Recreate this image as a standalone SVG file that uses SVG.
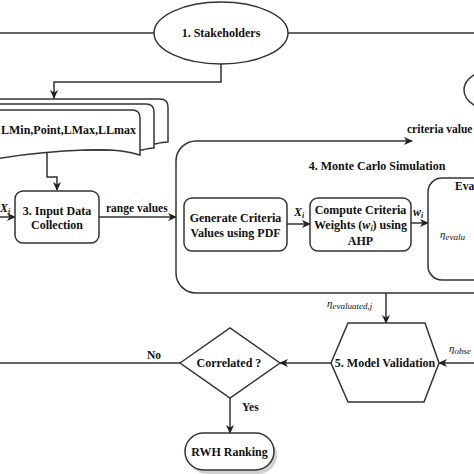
<svg xmlns="http://www.w3.org/2000/svg" width="474" height="474" viewBox="0 0 474 474">
<defs>
<marker id="arr" markerWidth="9" markerHeight="8" refX="8" refY="4" orient="auto" markerUnits="userSpaceOnUse">
<path d="M0,0 L9,4 L0,8 L2.5,4 Z" fill="#222"/>
</marker>
</defs>
<style>
.s{fill:#fff;stroke:#333;stroke-width:1.5}
.c{fill:none;stroke:#333;stroke-width:1.5}
.t{font-family:"Liberation Serif","DejaVu Serif",serif;font-weight:bold;font-size:12px;fill:#111;text-anchor:middle}
.l{font-family:"Liberation Serif","DejaVu Serif",serif;font-weight:bold;font-size:11.5px;fill:#111}
.i{font-family:"Liberation Serif","DejaVu Serif",serif;font-style:italic;font-weight:bold;fill:#111}
.e{font-family:"Liberation Serif","DejaVu Serif",serif;font-style:italic;font-size:11px;fill:#111}
</style>
<rect width="474" height="474" fill="#fff"/>

<g id="connectors">
<path class="c" d="M0,33 H154 M288,33 H474"/>
<path class="c" d="M221,64 V82 H54 V98" marker-end="url(#arr)"/>
<path class="c" d="M47,152 V177 H57 V190" marker-end="url(#arr)"/>
<path class="c" d="M-5,217 H15" marker-end="url(#arr)"/>
<path class="c" d="M99,217 H176" marker-end="url(#arr)"/>
<path class="c" d="M287,224 H310" marker-end="url(#arr)"/>
<path class="c" d="M411,223 H428" marker-end="url(#arr)"/>
<path class="c" d="M386,293 V323" marker-end="url(#arr)"/>
<path class="c" d="M474,363 H439" marker-end="url(#arr)"/>
<path class="c" d="M331,363 H280" marker-end="url(#arr)"/>
<path class="c" d="M180,363 H0"/>
<path class="c" d="M230,398 V433" marker-end="url(#arr)"/>
</g>

<g id="stakeholders">
<ellipse class="s" cx="221" cy="33" rx="67" ry="31"/>
<text class="t" x="221" y="37">1. Stakeholders</text>
</g>

<g id="node-topright">
<ellipse class="s" cx="497" cy="90" rx="33" ry="21"/>
</g>

<g id="documents">
<path class="s" d="M-5,99 H160 Q168,99 168,107 V142 C163,142 159,143 155,144 L-5,144 Z"/>
<path class="s" d="M-5,104 H146 Q154,104 154,112 V148 C150,148 146,149 142,150 L-5,150 Z"/>
<path class="s" d="M-5,110 H132 Q140,110 140,118 V155 C125,150 105,149 85,150 C50,151 25,154 -5,159 Z"/>
<text class="t" x="136" y="134" style="text-anchor:end">LMin,Point,LMax,LLmax</text>
</g>

<g id="input">
<rect class="s" x="15" y="191" width="84" height="52" rx="8"/>
<text class="t" x="57" y="215">3. Input Data</text>
<text class="t" x="57" y="229">Collection</text>
</g>

<g id="montecarlo">
<path class="c" d="M474,293 H196 A20,20 0 0 1 176,273 V161 A20,20 0 0 1 196,141 H412" marker-end="url(#arr)"/>
<text class="t" x="377" y="170">4. Monte Carlo Simulation</text>
</g>

<g id="generate">
<rect class="s" x="184" y="198" width="103" height="53" rx="8"/>
<text class="t" x="235.5" y="222">Generate Criteria</text>
<text class="t" x="235.5" y="237">Values using PDF</text>
</g>

<g id="compute">
<rect class="s" x="310" y="198" width="101" height="53" rx="8"/>
<text class="t" x="360.5" y="214">Compute Criteria</text>
<text class="t" x="360.5" y="229">Weights (<tspan font-style="italic">w</tspan><tspan font-style="italic" font-size="8" dy="2">i</tspan><tspan dy="-2">) using</tspan></text>
<text class="t" x="360.5" y="245">AHP</text>
</g>

<g id="evaluate">
<rect class="s" x="428" y="178" width="100" height="102" rx="14"/>
<text class="l" x="455" y="190">Eva</text>
<text class="e" x="440" y="238">η<tspan font-size="9" dy="2">evalu</tspan></text>
</g>

<g id="validation">
<polygon class="s" points="348,323 425,323 439,363 424,402 348,402 331,363"/>
<text class="t" x="385" y="367">5. Model Validation</text>
</g>

<g id="decision">
<polygon class="s" points="180,363 230,328 280,363 230,398"/>
<text class="t" x="229" y="367">Correlated ?</text>
</g>

<g id="ranking">
<rect x="188" y="437" width="89" height="37" rx="18.5" fill="#999" opacity="0.45"/>
<rect class="s" x="185" y="433" width="89" height="37" rx="18.5"/>
<text class="t" x="229.5" y="456">RWH Ranking</text>
</g>

<g id="labels">
<text class="l" x="106" y="212">range values</text>
<text class="l" x="407" y="133">criteria value</text>
<text class="l" x="147" y="359">No</text>
<text class="l" x="242" y="411">Yes</text>
<text class="i" x="0" y="212" font-size="12">X<tspan font-size="8" dy="2">i</tspan></text>
<text class="i" x="294" y="216" font-size="12">X<tspan font-size="8" dy="2">i</tspan></text>
<text class="i" x="413" y="216" font-size="12">w<tspan font-size="8" dy="2">i</tspan></text>
<text class="e" x="327" y="307">η<tspan font-size="9" dy="2">evaluated,j</tspan></text>
<text class="e" x="449" y="352">η<tspan font-size="9" dy="2">obse</tspan></text>
</g>
</svg>
